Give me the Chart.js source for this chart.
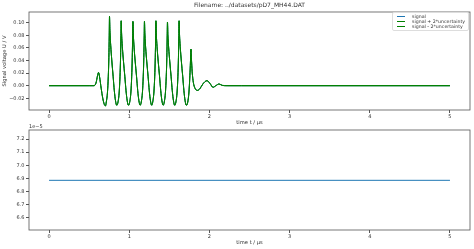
<!DOCTYPE html>
<html>
<head>
<meta charset="utf-8">
<script src="https://cdn.jsdelivr.net/npm/chart.js@4"></script>
<style>
  html, body { margin: 0; padding: 0; background: #fff; }
  #wrap { position: relative; width: 474px; height: 249px; font-family: "DejaVu Sans", sans-serif; }
  #wrap canvas { position: absolute; left: 0; top: 0; }
  #legend {
    position: absolute; left: 392px; top: 12px; width: 75px; height: 17px;
    border: 1px solid #ddd; border-radius: 2px; background: rgba(255,255,255,0.8);
    font-size: 4.7px; color: #333;
  }
  #legend .row { position: absolute; left: 0; height: 5px; line-height: 5px; }
  #legend .sw { position: absolute; left: 4px; top: 2px; width: 8px; height: 1px; }
  #legend .tx { position: absolute; left: 19px; top: 0; white-space: nowrap; }
</style>
</head>
<body>
<div id="wrap">
  <canvas id="top" width="474" height="249"></canvas>
  <canvas id="bottom" width="474" height="249"></canvas>
  <div id="legend">
    <div class="row" style="top:1px"><div class="sw" style="background:#1f77b4"></div><div class="tx">signal</div></div>
    <div class="row" style="top:6px"><div class="sw" style="background:#008000"></div><div class="tx">signal + 2*uncertainty</div></div>
    <div class="row" style="top:11px"><div class="sw" style="background:#008000"></div><div class="tx">signal - 2*uncertainty</div></div>
  </div>
</div>
<script>
// ---- data (time in µs, voltage in V) ----
const times = [
  0, 0.5, 0.56, 0.585, 0.605, 0.617, 0.63, 0.65, 0.67, 0.69, 0.704, 0.714, 0.729, 0.739, 0.746, 0.751,
  0.754, 0.759, 0.769, 0.782, 0.799, 0.814, 0.829, 0.844, 0.860, 0.875, 0.885, 0.892, 0.897,
  0.900, 0.905, 0.915, 0.928, 0.945, 0.960, 0.975, 0.990, 1.006, 1.021, 1.031, 1.038, 1.043,
  1.046, 1.051, 1.061, 1.074, 1.091, 1.106, 1.121, 1.136, 1.150, 1.165, 1.175, 1.182, 1.187,
  1.190, 1.195, 1.205, 1.218, 1.235, 1.250, 1.265, 1.280, 1.293, 1.308, 1.318, 1.325, 1.330,
  1.333, 1.338, 1.348, 1.361, 1.378, 1.393, 1.408, 1.423, 1.437, 1.452, 1.462, 1.469, 1.474,
  1.477, 1.482, 1.492, 1.505, 1.522, 1.537, 1.552, 1.567, 1.582, 1.597, 1.607, 1.614, 1.619,
  1.622, 1.627, 1.637, 1.650, 1.667, 1.682, 1.697, 1.712, 1.730, 1.745, 1.755, 1.762, 1.767,
  1.770, 1.775, 1.785, 1.80, 1.82, 1.85, 1.88, 1.92, 1.97, 2.01, 2.045, 2.08, 2.12, 2.16, 2.22, 2.4, 5.0
];
const signal = [
  0, 0, 0, 0.004, 0.016, 0.021, 0.014, -0.004, -0.02, -0.03, -0.032, -0.026, -0.01, 0.015, 0.045, 0.08,
  0.110, 0.088, 0.064, 0.041, 0.015, -0.008, -0.024, -0.031, -0.026, -0.01, 0.015, 0.045, 0.08,
  0.103, 0.082, 0.060, 0.039, 0.015, -0.008, -0.024, -0.031, -0.026, -0.01, 0.015, 0.045, 0.08,
  0.102, 0.082, 0.060, 0.039, 0.015, -0.008, -0.024, -0.031, -0.026, -0.01, 0.015, 0.045, 0.08,
  0.102, 0.082, 0.060, 0.039, 0.015, -0.008, -0.024, -0.031, -0.026, -0.01, 0.015, 0.045, 0.08,
  0.103, 0.082, 0.060, 0.039, 0.015, -0.008, -0.024, -0.031, -0.026, -0.01, 0.015, 0.045, 0.08,
  0.101, 0.081, 0.060, 0.039, 0.015, -0.008, -0.024, -0.031, -0.026, -0.01, 0.015, 0.045, 0.08,
  0.103, 0.082, 0.060, 0.039, 0.015, -0.008, -0.024, -0.031, -0.026, -0.01, 0.012, 0.032, 0.05,
  0.058, 0.045, 0.022, 0.005, -0.004, -0.0075, -0.005, 0.003, 0.008, 0.003, -0.0026, 0.0, 0.0027, 0.0005, 0, 0, 0
];
const uncTimes = [0, 5];
const uncertainty = [6.885e-5, 6.885e-5];

const xTicks = [0, 1, 2, 3, 4, 5];
const topYTicks = [-0.02, 0, 0.02, 0.04, 0.06, 0.08, 0.10];
const bottomYTicks = [6.6e-5, 6.7e-5, 6.8e-5, 6.9e-5, 7.0e-5, 7.1e-5, 7.2e-5];

const FONT = '"DejaVu Sans", sans-serif';
const INK = '#333';
const fmtMinus = (s) => s.replace('-', '\u2212');

// frame + extra texts
const framePlugin = {
  id: 'frame',
  afterDraw(chart, args, opts) {
    const { ctx, chartArea: a } = chart;
    ctx.save();
    ctx.strokeStyle = '#555';
    ctx.lineWidth = 0.8;
    ctx.strokeRect(a.left, a.top, a.right - a.left, a.bottom - a.top);
    ctx.fillStyle = INK;
    if (opts.title) {
      ctx.font = `6px ${FONT}`;
      ctx.textAlign = 'center';
      ctx.textBaseline = 'middle';
      ctx.fillText(opts.title, (a.left + a.right) / 2, 5);
    }
    if (opts.offset) {
      ctx.font = `5px ${FONT}`;
      ctx.textAlign = 'left';
      ctx.textBaseline = 'bottom';
      ctx.fillText(opts.offset, a.left, a.top - 0.5);
    }
    ctx.restore();
  }
};

function xScale() {
  return {
    type: 'linear',
    min: -0.25, max: 5.25,
    afterFit: s => { s.height = 18; },
    afterBuildTicks: s => { s.ticks = xTicks.map(v => ({ value: v })); },
    grid: { drawOnChartArea: false, drawTicks: true, tickLength: 3, color: '#555' },
    border: { display: false },
    ticks: { font: { family: FONT, size: 5 }, color: INK, padding: 1, maxRotation: 0, callback: v => String(v) },
    title: { display: true, text: 'time t / \u00b5s', font: { family: FONT, size: 5.2 }, color: INK, padding: { top: 0, bottom: 2 } }
  };
}

function yScale(min, max, ticks, fmt, title) {
  return {
    min, max,
    afterFit: s => { s.width = 29; },
    afterBuildTicks: s => { s.ticks = ticks.map(v => ({ value: v })); },
    grid: { drawOnChartArea: false, drawTicks: true, tickLength: 3, color: '#555' },
    border: { display: false },
    ticks: { font: { family: FONT, size: 5 }, color: INK, padding: 1.5, callback: fmt },
    title: title
      ? { display: true, text: title, font: { family: FONT, size: 5.2 }, color: INK, padding: { top: 2, bottom: 0 } }
      : { display: false }
  };
}

const pts = (xs, ys) => xs.map((x, i) => ({ x, y: ys[i] }));
const lineDs = (data, color, order) => ({
  data, borderColor: color, borderWidth: 1, pointRadius: 0, order,
  cubicInterpolationMode: 'monotone', fill: false
});

// lower order is drawn on top, so the green bands cover the signal like in matplotlib
new Chart(document.getElementById('top'), {
  type: 'line',
  data: {
    datasets: [
      lineDs(pts(times, signal), '#1f77b4', 3),
      lineDs(pts(times, signal.map(v => v + 2 * uncertainty[0])), '#008000', 2),
      lineDs(pts(times, signal.map(v => v - 2 * uncertainty[0])), '#008000', 1)
    ]
  },
  options: {
    responsive: false, animation: false,
    layout: { padding: { left: 0, right: 4, top: 12, bottom: 121 } },
    plugins: {
      legend: { display: false }, tooltip: { enabled: false },
      frame: { title: 'Filename: ../datasets/pD7_MH44.DAT' }
    },
    scales: {
      x: xScale(),
      y: yScale(-0.0386, 0.117, topYTicks, v => fmtMinus(v.toFixed(2)), 'Signal voltage U / V')
    }
  },
  plugins: [framePlugin]
});

new Chart(document.getElementById('bottom'), {
  type: 'line',
  data: { datasets: [lineDs(pts(uncTimes, uncertainty), '#1f77b4', 1)] },
  options: {
    responsive: false, animation: false,
    layout: { padding: { left: 0, right: 4, top: 130, bottom: 1 } },
    plugins: {
      legend: { display: false }, tooltip: { enabled: false },
      frame: { offset: '1e\u22125' }
    },
    scales: {
      x: xScale(),
      y: yScale(6.506e-5, 7.269e-5, bottomYTicks, v => (v / 1e-5).toFixed(1), null)
    }
  },
  plugins: [framePlugin]
});
</script>
</body>
</html>
